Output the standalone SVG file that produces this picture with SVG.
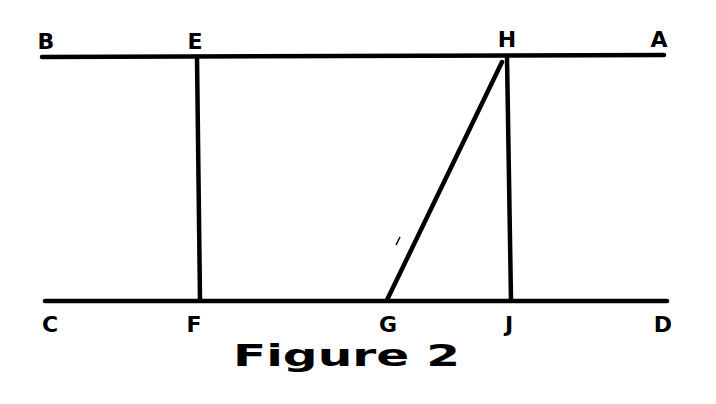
<svg xmlns="http://www.w3.org/2000/svg" width="716" height="404" viewBox="0 0 716 404">
<style>
.ln{stroke:#000;stroke-width:4.5;stroke-linecap:round;fill:none}
.lb{font-family:"DejaVu Sans","Liberation Sans",sans-serif;font-weight:bold;font-size:22px;fill:#000;text-anchor:middle}
.cap{font-family:"DejaVu Sans","Liberation Sans",sans-serif;font-weight:bold;font-size:30px;fill:#000}
</style>
<rect width="716" height="404" fill="#fff"/>
<g id="connectors">
<line class="ln" x1="42" y1="57" x2="664" y2="55"/>
<line class="ln" x1="45" y1="301" x2="667" y2="301"/>
<line class="ln" x1="197" y1="57" x2="200" y2="300"/>
<line class="ln" x1="507" y1="57" x2="511" y2="300"/>
<line class="ln" x1="502" y1="62" x2="387" y2="300"/>
<line x1="400" y1="237" x2="396" y2="245" stroke="#000" stroke-width="1.5"/>
</g>
<g id="B"><text class="lb" x="46" y="49">B</text></g>
<g id="E"><text class="lb" x="195" y="49">E</text></g>
<g id="H"><text class="lb" x="507" y="47">H</text></g>
<g id="A"><text class="lb" x="659" y="47">A</text></g>
<g id="C"><text class="lb" x="50" y="332">C</text></g>
<g id="F"><text class="lb" x="194" y="332">F</text></g>
<g id="G"><text class="lb" x="388" y="332">G</text></g>
<g id="J"><text class="lb" x="509" y="332">J</text></g>
<g id="D"><text class="lb" x="663" y="332">D</text></g>
<g id="caption"><text class="cap" x="233" y="366" textLength="227" lengthAdjust="spacingAndGlyphs">Figure 2</text></g>
</svg>
